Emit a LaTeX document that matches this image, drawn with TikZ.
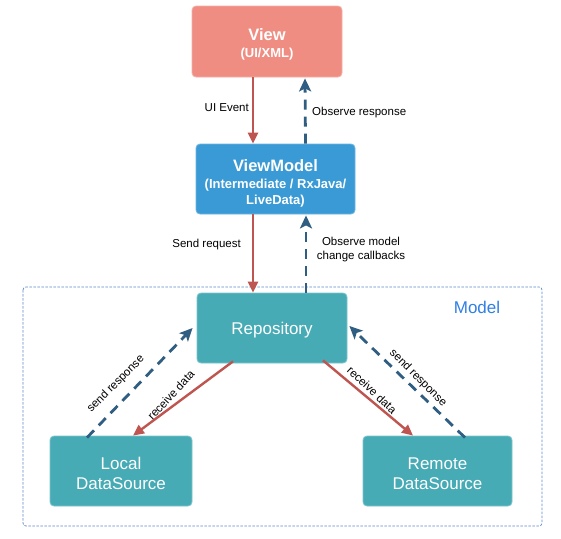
\documentclass[tikz,border=0pt]{standalone}
\usepackage{fontspec}
\setmainfont{Liberation Sans}
\usetikzlibrary{arrows.meta}
\definecolor{viewc}{HTML}{F08D82}
\definecolor{viewb}{HTML}{F5B0A8}
\definecolor{vmc}{HTML}{3A9AD5}
\definecolor{vmb}{HTML}{6DB6E3}
\definecolor{teal}{HTML}{47ABB5}
\definecolor{tealb}{HTML}{7CC5CC}
\definecolor{redarr}{HTML}{BF5550}
\definecolor{bluearr}{HTML}{2F5E82}
\definecolor{modelc}{HTML}{5B8CCB}
\definecolor{modeltxt}{HTML}{2F7FE6}
\begin{document}
\begin{tikzpicture}[x=1pt,y=-1pt,
  box/.style={draw, line width=0.8pt, rounded corners=4pt, inner sep=0pt},
  title/.style={text=white, anchor=base, inner sep=0pt, font=\fontsize{16.5}{19}\selectfont\bfseries},
  sub/.style={text=white, anchor=base, inner sep=0pt, font=\fontsize{13}{16}\selectfont\bfseries},
  dstxt/.style={text=white, anchor=base, inner sep=0pt, font=\fontsize{17}{20}\selectfont},
  redarrow/.style={draw=redarr, line width=2.4pt, -{Triangle[length=11pt,width=10pt]}},
  dasharrow/.style={draw=bluearr, line width=2.8pt, dash pattern=on 10pt off 7pt, -{Stealth[length=13pt,width=12pt,inset=3pt]}},
  lbl/.style={font=\fontsize{11.5}{13}\selectfont, text=black, inner sep=0pt, align=center}
]
\useasboundingbox (0,0) rectangle (561,538);
\fill[white] (0,0) rectangle (561,538);

% Model container
\draw[modelc, line width=0.7pt, dash pattern=on 2.5pt off 1.5pt, rounded corners=3pt] (23,287) rectangle (542,526);
\node[text=modeltxt, font=\fontsize{17}{20}\selectfont, inner sep=0pt] (modellbl) at (477,307) {Model};

% boxes
\node[box, fill=viewc, draw=viewb, minimum width=150pt, minimum height=71pt] (view) at (267,41.5) {};
\node[title] (viewt) at (267,40) {View};
\node[sub] (views) at (267,57.7) {(UI/XML)};

\node[box, fill=vmc, draw=vmb, minimum width=159pt, minimum height=70pt] (vm) at (275.5,179) {};
\node[title] (vmt) at (275.5,171) {ViewModel};
\node[sub] (vms1) at (275.5,188.7) {(Intermediate / RxJava/};
\node[sub] (vms2) at (275.5,204.7) {LiveData)};

\node[box, fill=teal, draw=tealb, minimum width=150pt, minimum height=70pt] (repo) at (272,328) {};
\node[dstxt] (repot) at (272,334.5) {Repository};

\node[box, fill=teal, draw=tealb, minimum width=142pt, minimum height=70pt] (local) at (121,471) {};
\node[dstxt] (localt1) at (121,469) {Local};
\node[dstxt] (localt2) at (121,489) {DataSource};

\node[box, fill=teal, draw=tealb, minimum width=149pt, minimum height=70pt] (remote) at (437.5,471) {};
\node[dstxt] (remotet1) at (437.5,469) {Remote};
\node[dstxt] (remotet2) at (437.5,489) {DataSource};

% View <-> ViewModel
\draw[redarrow] ([xshift=-14pt]view.south) -- ([xshift=-22.5pt]vm.north);
\draw[dasharrow] ([xshift=30pt]vm.north) -- ([xshift=38pt,yshift=-1pt]view.south);
\node[lbl, anchor=east] (uievent) at (249,108) {UI Event};
\node[lbl, anchor=west] (obsresp) at (312,113) {Observe response};

% ViewModel <-> Repository
\draw[redarrow] ([xshift=-22.5pt]vm.south) -- ([xshift=-19pt]repo.north);
\draw[dasharrow] ([xshift=34pt]repo.north) -- ([xshift=30.5pt,yshift=-1pt]vm.south);
\node[lbl, anchor=east] (sendreq) at (241,245) {Send request};
\node[lbl] (obsmodel) at (361,250) {Observe model\\[1pt]change callbacks};

% Repository <-> Local
\draw[redarrow] ([xshift=-39pt,yshift=2pt]repo.south) -- ([xshift=12pt]local.north);
\draw[dasharrow] ([xshift=-34pt,yshift=-2pt]local.north) -- ([xshift=-4pt]repo.west);
\node[lbl, rotate=45] (sendL) at (116,384) {send response};
\node[lbl, rotate=47] (recvL) at (171,395) {receive data};

% Repository <-> Remote
\draw[redarrow] ([xshift=51pt,yshift=3pt]repo.south) -- ([xshift=-24.5pt]remote.north);
\draw[dasharrow] ([xshift=27.5pt,yshift=-2pt]remote.north) -- ([xshift=2pt,yshift=2pt]repo.east);
\node[lbl, rotate=-45] (sendR) at (418,378) {send response};
\node[lbl, rotate=-43] (recvR) at (372,390) {receive data};
\end{tikzpicture}
\end{document}
